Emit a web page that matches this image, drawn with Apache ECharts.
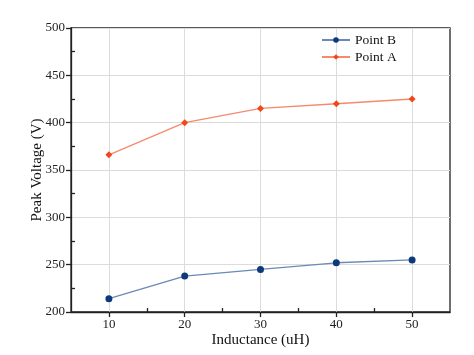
<!DOCTYPE html>
<html><head><meta charset="utf-8">
<script src="https://cdn.jsdelivr.net/npm/echarts@6/dist/echarts.min.js"></script>
<style>html,body{margin:0;padding:0;background:#fff}#c{width:474px;height:355px}</style>
</head><body><div id="c"></div>
<script>
const inductance = [10, 20, 30, 40, 50];
const pointB = [214, 238, 245, 252, 255];
const pointA = [366, 400, 415, 420, 425];
const xMajorTicks = [10, 20, 30, 40, 50];
const xMinorTicks = [15, 25, 35, 45];
const yMinorTicks = [225, 275, 325, 375, 425, 475];

const font = 'Liberation Serif';
const chart = echarts.init(document.getElementById('c'), null, {renderer: 'canvas'});
chart.setOption({
  animation: false,
  textStyle: {fontFamily: font},
  grid: {left: 71, right: 24, top: 28, bottom: 43, outerBoundsMode: 'none', containLabel: false, show: true, borderColor: '#222', borderWidth: 1.3, backgroundColor: 'transparent'},
  legend: {
    left: 316, top: 28, orient: 'vertical', itemWidth: 28, itemHeight: 7, itemGap: 3,
    textStyle: {fontFamily: font, fontSize: 13.5, color: '#111'},
    data: [
      {name: 'Point B', lineStyle: {color: '#6a89b4'}},
      {name: 'Point A', lineStyle: {color: '#f58a6c'}}
    ]
  },
  xAxis: [{
    type: 'value', min: 5, max: 55,
    name: 'Inductance (uH)', nameLocation: 'middle', nameGap: 21, nameMoveOverlap: false,
    nameTextStyle: {fontFamily: font, fontSize: 15, color: '#111'},
    axisLine: {show: true, lineStyle: {color: '#222', width: 1.3}},
    axisTick: {show: true, inside: false, length: 5, customValues: xMajorTicks, lineStyle: {color: '#222', width: 1.3}},
    axisLabel: {customValues: xMajorTicks, margin: 6, fontFamily: font, fontSize: 13, color: '#222'},
    splitLine: {show: true, lineStyle: {color: '#dcdcdc', width: 1}}
  }, {
    type: 'value', min: 5, max: 55, position: 'bottom', gridIndex: 0,
    axisLine: {show: false},
    axisTick: {show: true, inside: true, length: 4, customValues: xMinorTicks, lineStyle: {color: '#222', width: 1.3}},
    axisLabel: {show: false}, splitLine: {show: false}
  }],
  yAxis: [{
    type: 'value', min: 200, max: 500, interval: 50,
    name: 'Peak Voltage (V)', nameLocation: 'middle', nameGap: 26, nameMoveOverlap: false,
    nameTextStyle: {fontFamily: font, fontSize: 15, color: '#111'},
    axisLine: {show: true, lineStyle: {color: '#222', width: 1.3}},
    axisTick: {show: true, inside: false, length: 5, lineStyle: {color: '#222', width: 1.3}},
    axisLabel: {margin: 6, fontFamily: font, fontSize: 13, color: '#222'},
    splitLine: {show: true, lineStyle: {color: '#dcdcdc', width: 1}}
  }, {
    type: 'value', min: 200, max: 500, position: 'left', gridIndex: 0,
    axisLine: {show: false},
    axisTick: {show: true, inside: true, length: 4, customValues: yMinorTicks, lineStyle: {color: '#222', width: 1.3}},
    axisLabel: {show: false}, splitLine: {show: false}
  }],
  series: [{
    name: 'Point B', type: 'line', xAxisIndex: 0, yAxisIndex: 0,
    data: inductance.map((x, i) => [x, pointB[i]]),
    symbol: 'circle', symbolSize: 7,
    itemStyle: {color: '#0c3a7c'},
    lineStyle: {color: '#6a89b4', width: 1.3}
  }, {
    name: 'Point A', type: 'line', xAxisIndex: 0, yAxisIndex: 0,
    data: inductance.map((x, i) => [x, pointA[i]]),
    symbol: 'diamond', symbolSize: 7,
    itemStyle: {color: '#f2461d'},
    lineStyle: {color: '#f58a6c', width: 1.3}
  }]
});
</script></body></html>
